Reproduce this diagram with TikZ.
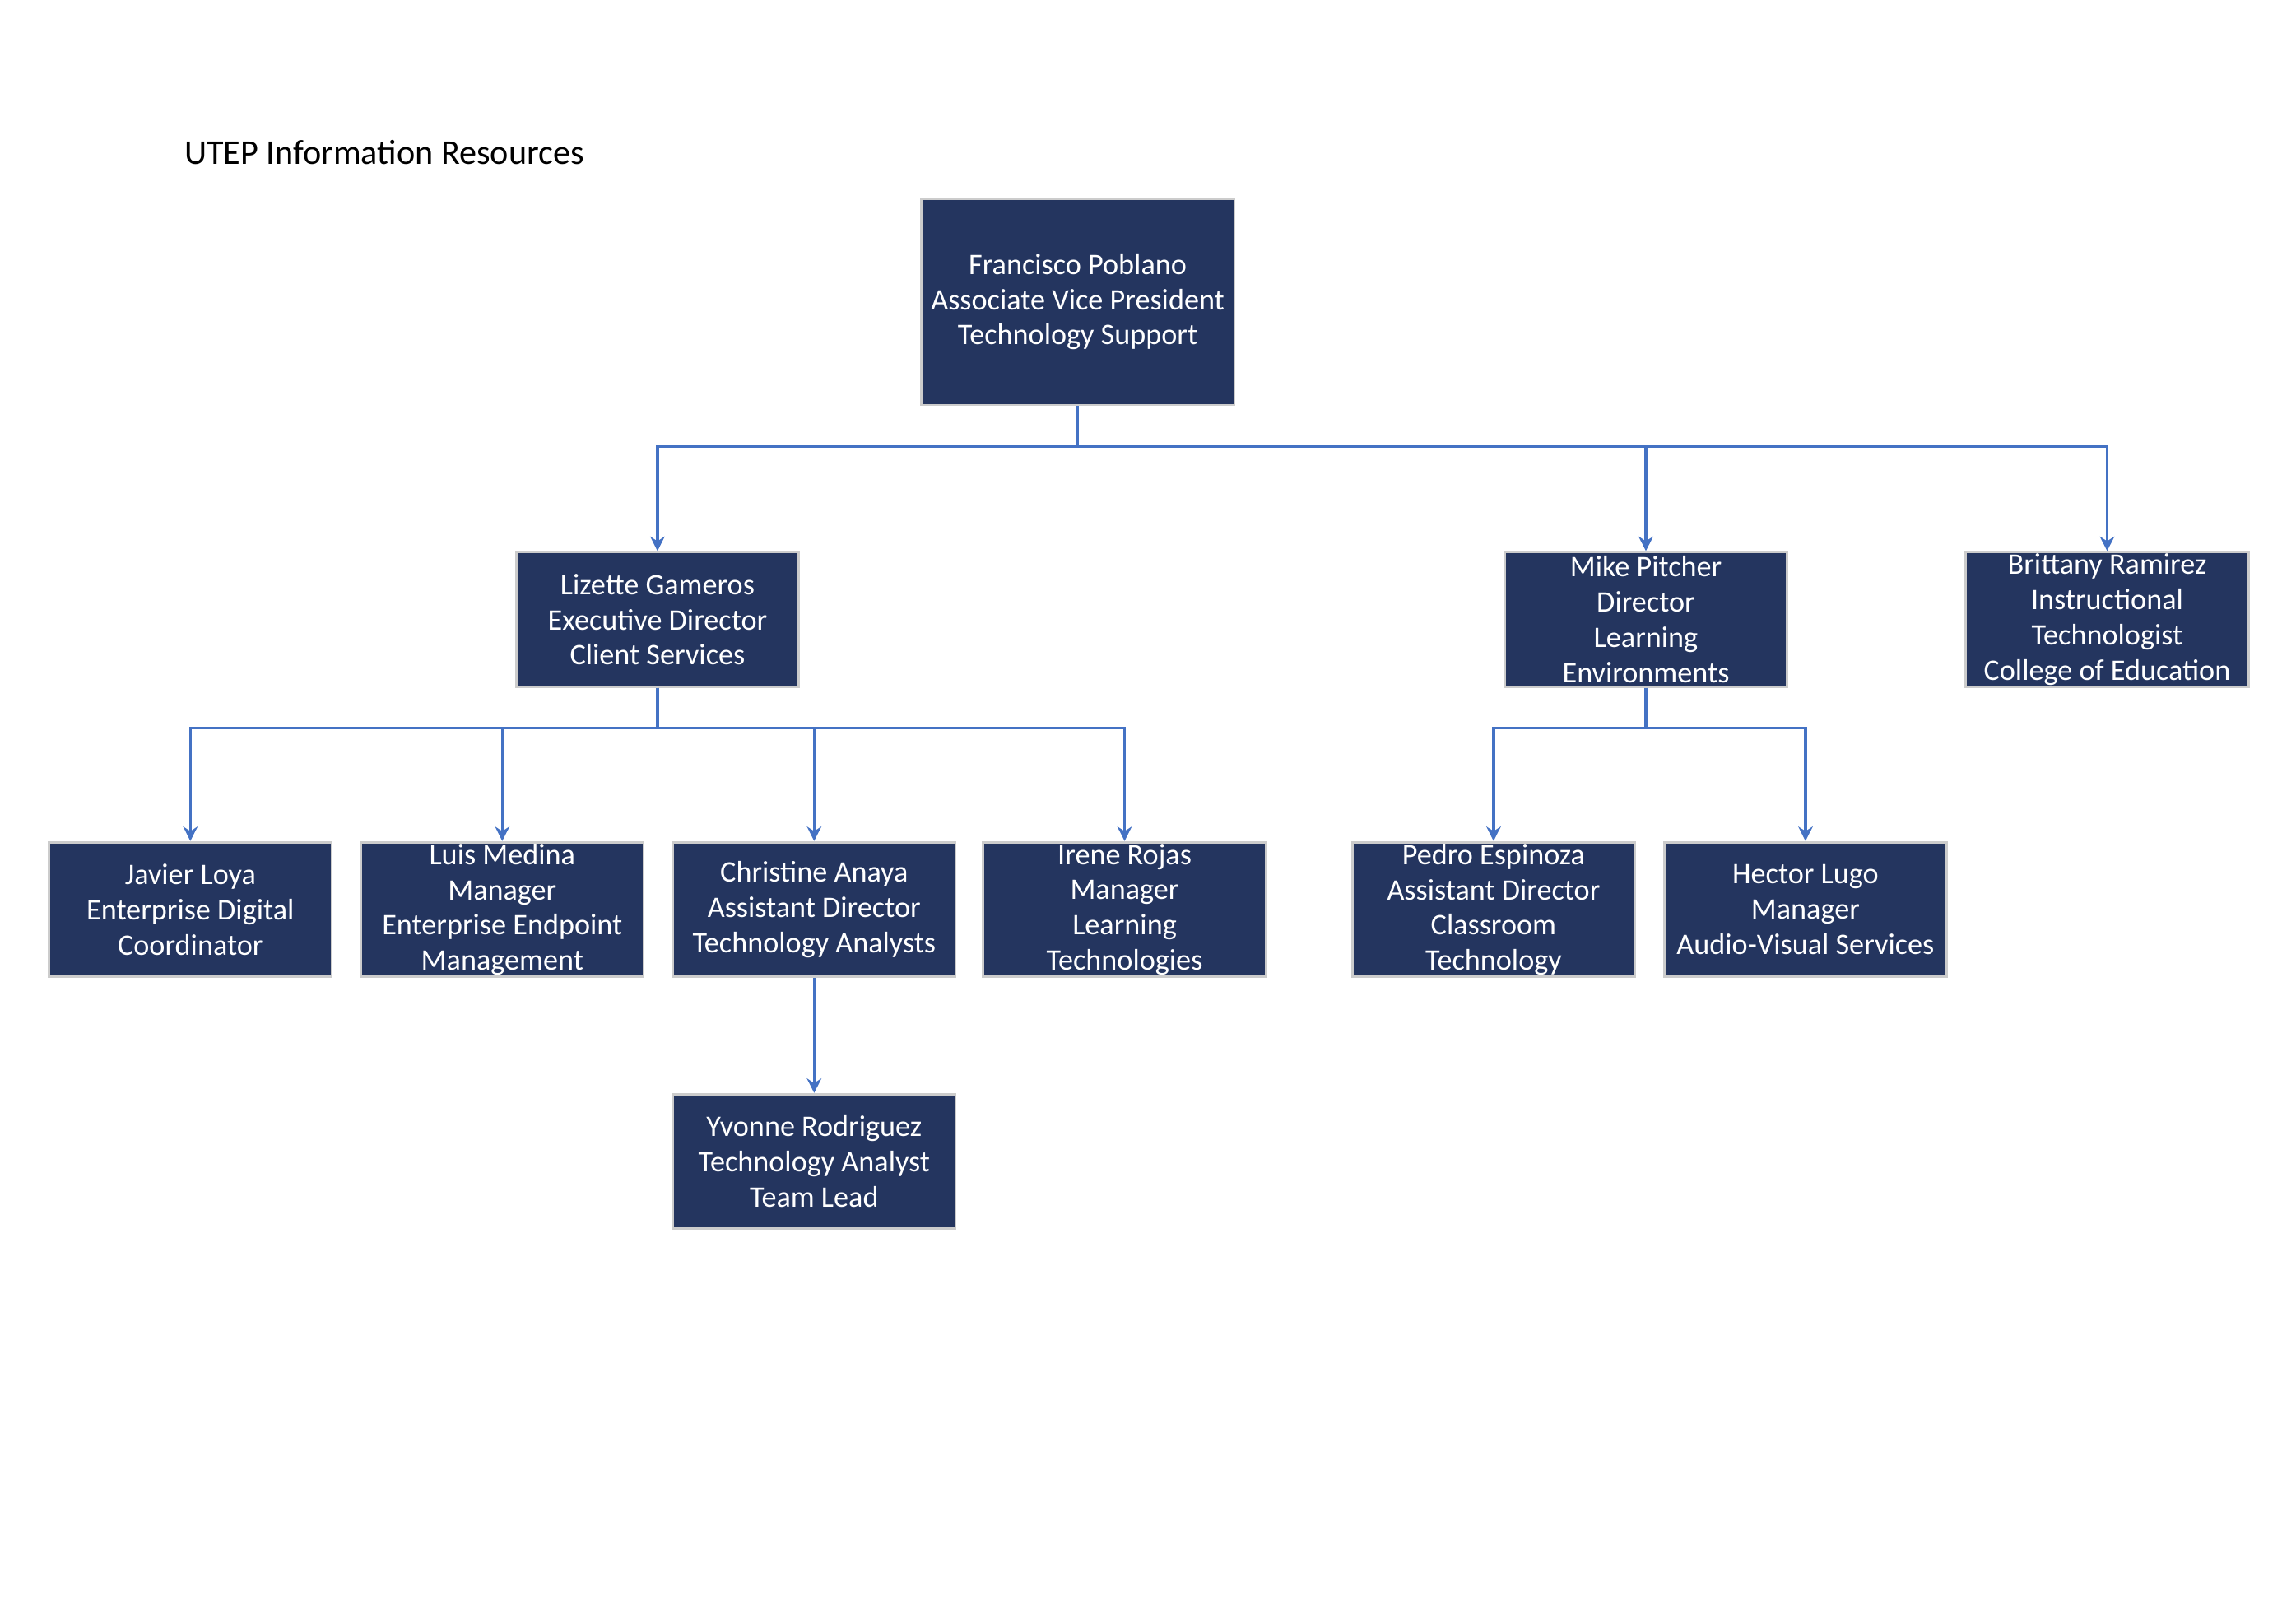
\documentclass[tikz,border=0pt]{standalone}
\usepackage{fontspec}
\setmainfont{Carlito}
\usetikzlibrary{arrows.meta}
\definecolor{navy}{HTML}{24355F}
\definecolor{ln}{HTML}{4472C4}
\begin{document}
\begin{tikzpicture}[x=0.017793cm,y=-0.017793cm,
 box/.style={draw=gray!40,line width=0.8pt,fill=navy,text=white,minimum width=193*0.017793cm,minimum height=92*0.017793cm,inner sep=0pt,align=center,font=\fontsize{10.3}{12.2}\selectfont},
 con/.style={draw=ln,line width=0.9pt,-{Stealth[length=5pt,width=5pt]}}]
\useasboundingbox (0,0) rectangle (1568,1099);
\node[anchor=west,font=\fontsize{12}{14}\selectfont] (title) at (119,104) {UTEP Information Resources};
\node[box,minimum width=214*0.017793cm,minimum height=141*0.017793cm] (fp) at (736,206) {Francisco Poblano\\Associate Vice President\\Technology Support};
\node[box] (lg) at (449,423) {Lizette Gameros\\Executive Director\\Client Services};
\node[box] (mp) at (1124,423) {Mike Pitcher\\Director\\Learning\\Environments};
\node[box] (br) at (1439,423) {Brittany Ramirez\\Instructional\\Technologist\\College of Education};
\node[box] (jl) at (130,621) {Javier Loya\\Enterprise Digital\\Coordinator};
\node[box] (lm) at (343,621) {Luis Medina\\Manager\\Enterprise Endpoint\\Management};
\node[box] (ca) at (556,621) {Christine Anaya\\Assistant Director\\Technology Analysts};
\node[box] (ir) at (768,621) {Irene Rojas\\Manager\\Learning\\Technologies};
\node[box] (pe) at (1020,621) {Pedro Espinoza\\Assistant Director\\Classroom\\Technology};
\node[box] (hl) at (1233,621) {Hector Lugo\\Manager\\Audio-Visual Services};
\node[box] (yr) at (556,793) {Yvonne Rodriguez\\Technology Analyst\\Team Lead};
\foreach \c in {lg,mp,br} \draw[con] (fp.south) |- (736,305) -| (\c.north);
\foreach \c in {jl,lm,ca,ir} \draw[con] (lg.south) |- (449,497) -| (\c.north);
\foreach \c in {pe,hl} \draw[con] (mp.south) |- (1124,497) -| (\c.north);
\draw[con] (ca) -- (yr);
\end{tikzpicture}
\end{document}
